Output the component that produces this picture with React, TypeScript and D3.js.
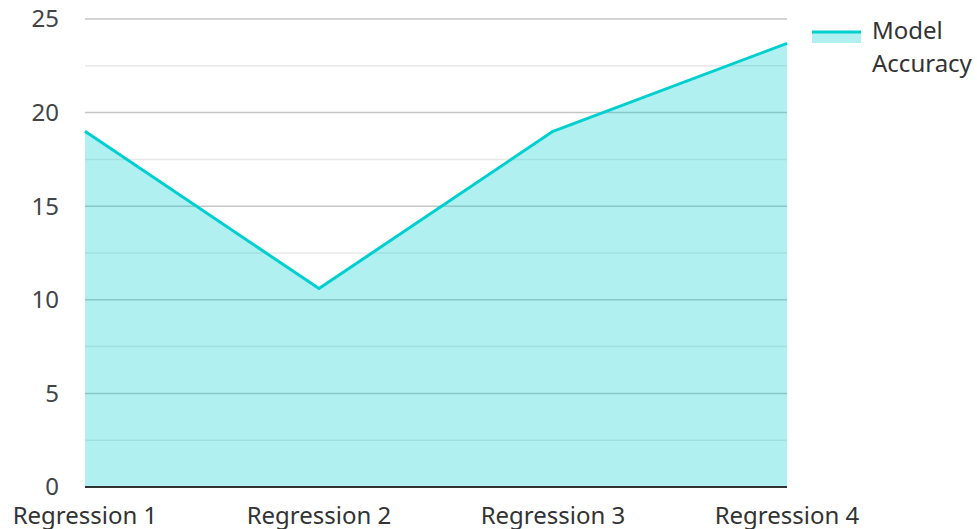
import React from "react";
import * as d3 from "d3";

const categories = ["Regression 1", "Regression 2", "Regression 3", "Regression 4"];
const accuracy = [19, 10.6, 19, 23.7];
const yTicks = [0, 5, 10, 15, 20, 25];
const minorTicks = [2.5, 7.5, 12.5, 17.5, 22.5];
const seriesName = ["Model", "Accuracy"];

const W = 977, H = 529;
const left = 85, right = 787, top = 19, bottom = 487;
const FONT = "'Noto Sans', 'Open Sans', sans-serif";

export default function App() {
  const x = d3.scalePoint<string>().domain(categories).range([left, right]).padding(0);
  const y = d3.scaleLinear().domain([0, 25]).range([bottom, top]);
  const pts = categories.map((c, i) => [x(c)!, y(accuracy[i])] as [number, number]);
  const area = d3.area<[number, number]>().x(d => d[0]).y0(y(0)).y1(d => d[1])(pts) || "";
  const line = d3.line<[number, number]>().x(d => d[0]).y(d => d[1])(pts) || "";
  return (
    <svg width={W} height={H} style={{ position: "absolute", left: 0, top: 0, background: "#fff" }} fontFamily={FONT}>
      {minorTicks.map(t => (
        <line key={"m" + t} x1={left} x2={right} y1={y(t)} y2={y(t)} stroke="#e8e8e8" strokeWidth={1.5} />
      ))}
      {yTicks.filter(t => t > 0).map(t => (
        <line key={"g" + t} x1={left} x2={right} y1={y(t)} y2={y(t)} stroke="#c6c6c6" strokeWidth={1.5} />
      ))}
      <path d={area} fill="rgb(0,206,209)" fillOpacity={0.31} />
      <path d={line} fill="none" stroke="#00cfcf" strokeWidth={3} strokeLinejoin="round" />
      <line x1={left} x2={right} y1={y(0)} y2={y(0)} stroke="#333" strokeWidth={2} />
      {yTicks.map(t => (
        <text key={"t" + t} x={59} y={y(t)} dy="0.35em" textAnchor="end" fontSize={24} fill="#444">{t}</text>
      ))}
      {categories.map(c => (
        <text key={c} x={x(c)} y={524} textAnchor="middle" fontSize={24} fill="#333">{c}</text>
      ))}
      <rect x={812} y={31} width={49} height={12} fill="rgb(0,206,209)" fillOpacity={0.31} />
      <line x1={812} x2={861} y1={32} y2={32} stroke="#00cfcf" strokeWidth={3} />
      {seriesName.map((s, i) => (
        <text key={s} x={872} y={31 + i * 33} dy="0.35em" fontSize={24} fill="#333">{s}</text>
      ))}
    </svg>
  );
}
